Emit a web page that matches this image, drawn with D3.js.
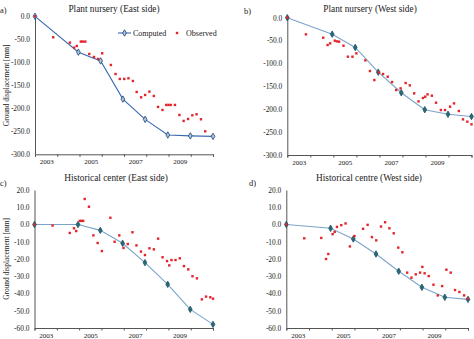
<!DOCTYPE html>
<html><head><meta charset="utf-8">
<script src="https://cdn.jsdelivr.net/npm/d3@7"></script>
<style>body{margin:0;background:#fff}svg{display:block}svg text{font-family:"Liberation Serif","Times New Roman",serif;}</style>
</head><body><svg id="c" width="474" height="339"></svg>
<script>
const titles = ["Plant nursery (East side)", "Plant nursery (West side)", "Historical center (East side)", "Historical centre (West side)"];
const panelLetters = ["a)", "b)", "c)", "d)"];
const yLabel = "Ground displacement [mm]";
const legendLabels = ["Computed", "Observed"];
const xTickLabels = [2003, 2005, 2007, 2009];
const yTicksTop = [0, -50, -100, -150, -200, -250, -300];
const yTicksBottom = [20, 10, 0, -10, -20, -30, -40, -50, -60];

const compYears = [2002.5, 2004.45, 2005.45, 2006.45, 2007.45, 2008.47, 2009.48, 2010.5];
const compA = [0, -78, -97, -180, -224, -258, -260, -261];
const compB = [0, -36, -65, -119, -164, -201, -211, -216];
const compC = [0, 0, -3.4, -10.9, -22.1, -34.7, -49.2, -57.9];
const compD = [0, -2.2, -8.4, -17.1, -27.1, -36.4, -42.2, -43.4];

const obsYearsA = [2002.5, 2003.32, 2004.07, 2004.26, 2004.38, 2004.56, 2004.65, 2004.76, 2004.94, 2005.15, 2005.34, 2005.52, 2005.91, 2006.12, 2006.31, 2006.51, 2006.7, 2006.9, 2007.07, 2007.27, 2007.45, 2007.64, 2007.84, 2008.03, 2008.23, 2008.4, 2008.5, 2008.6, 2008.79, 2008.99, 2009.18, 2009.38, 2009.57, 2009.76, 2009.96, 2010.15];
const obsA = [0, -45.6, -57.2, -68.1, -64.5, -55, -55, -55, -81.9, -88.4, -92.7, -80.4, -105.8, -125.4, -136.2, -136.2, -134.8, -140.6, -164.5, -176.1, -171, -163.8, -173.2, -197, -203.6, -192.7, -192.7, -192.7, -192.7, -214.5, -227.5, -223.2, -215.2, -213, -223.9, -250];

const obsYearsB = [2002.5, 2003.31, 2004.06, 2004.25, 2004.36, 2004.56, 2004.65, 2004.75, 2004.94, 2005.13, 2005.33, 2005.5, 2005.89, 2006.09, 2006.28, 2006.47, 2006.66, 2006.86, 2007.05, 2007.23, 2007.42, 2007.64, 2007.82, 2008.01, 2008.2, 2008.39, 2008.49, 2008.59, 2008.78, 2008.96, 2009.17, 2009.35, 2009.57, 2009.74, 2009.95, 2010.13, 2010.32, 2010.5];
const obsB = [0, -36.4, -43.7, -59.7, -56.1, -50.2, -51.7, -52.4, -61.2, -85.2, -85.2, -77.9, -93.2, -116.5, -136.2, -119.4, -123, -128.9, -140.5, -158, -154.4, -142.7, -147.8, -165.3, -182.8, -175.5, -172.6, -167.5, -170.4, -185.7, -201.7, -201.7, -194.4, -187.2, -203.9, -222.1, -227.2, -233];

const obsYearsC = [2002.5, 2003.31, 2004.08, 2004.27, 2004.37, 2004.53, 2004.61, 2004.68, 2004.75, 2004.94, 2005.14, 2005.33, 2005.52, 2005.9, 2006.09, 2006.3, 2006.49, 2006.68, 2006.89, 2007.07, 2007.27, 2007.45, 2007.65, 2007.85, 2008.04, 2008.24, 2008.44, 2008.54, 2008.64, 2008.82, 2009.01, 2009.2, 2009.39, 2009.58, 2009.78, 2010, 2010.19, 2010.38, 2010.5];
const obsC = [0, -0.6, -4.9, -2.2, -3.8, 2.1, 2.1, 2.1, 14.8, 10.3, -6.3, -10.7, -15.4, 3.9, -10, -6.3, -13.6, -11.3, -4.5, -12.1, -15.7, -17.7, -13.8, -14.4, -8.2, -19, -21.2, -23.7, -20.6, -20.6, -19.6, -24.1, -26, -30, -31.2, -43.4, -41.8, -42.2, -43];

const obsYearsD = [2002.5, 2003.29, 2004.04, 2004.25, 2004.35, 2004.54, 2004.63, 2004.73, 2004.92, 2005.11, 2005.3, 2005.5, 2005.88, 2006.08, 2006.27, 2006.46, 2006.67, 2006.85, 2007.04, 2007.23, 2007.43, 2007.61, 2007.82, 2008.01, 2008.2, 2008.39, 2008.49, 2008.59, 2008.77, 2008.98, 2009.17, 2009.36, 2009.55, 2009.74, 2009.93, 2010.12, 2010.33, 2010.5];
const obsD = [0, -8, -7.8, -20, -17.1, -5.6, -4.3, -1.4, -0.4, 0.6, -12.7, -6.7, -2.5, -0.2, -7.3, -9.2, -1.2, 1.3, -2.2, -5.1, -13.4, -16.1, -27.9, -30.8, -28.9, -27.9, -24.6, -28.3, -29.9, -34.9, -41.1, -35.7, -26.2, -27.9, -38, -39.1, -41.1, -43];

const panels = [
  {comp: compA, oy: obsYearsA, obs: obsA, yt: yTicksTop, L: 35, R: 213, T: 16.3, B: 154.3, titleX: 114, titleY: 11.5, letX: 0, letY: 13, yLab: true, legend: true, lineCol: "#3a6bb0", mFill: "#a9c6e2", mStroke: "#1f3f70"},
  {comp: compB, oy: obsYearsB, obs: obsB, yt: yTicksTop, L: 287.3, R: 471.5, T: 17.7, B: 155, titleX: 370, titleY: 12, letX: 244, letY: 14, yLab: false, legend: false, lineCol: "#7ba4cc", mFill: "#2a6a78", mStroke: "#1d5260"},
  {comp: compC, oy: obsYearsC, obs: obsC, yt: yTicksBottom, L: 34.5, R: 213, T: 190, B: 328, titleX: 116, titleY: 180.5, letX: 0, letY: 186, yLab: true, legend: false, lineCol: "#7ba4cc", mFill: "#2a6a78", mStroke: "#1d5260"},
  {comp: compD, oy: obsYearsD, obs: obsD, yt: yTicksBottom, L: 286.3, R: 468, T: 190, B: 328, titleX: 369, titleY: 180.5, letX: 249, letY: 186, yLab: false, legend: false, lineCol: "#7ba4cc", mFill: "#2a6a78", mStroke: "#1d5260"}
];

const svg = d3.select("#c");
const diamond = d3.symbol().type(d3.symbolDiamond).size(12);
const txt = "#222";

panels.forEach((p, i) => {
  const g = svg.append("g");
  const x = d3.scaleLinear().domain([2002.5, 2010.5]).range([p.L, p.R]);
  const y = d3.scaleLinear().domain([d3.min(p.yt), d3.max(p.yt)]).range([p.B, p.T]);

  g.append("text").attr("x", p.titleX).attr("y", p.titleY).attr("text-anchor", "middle")
    .attr("font-size", 9.3).attr("fill", txt).text(titles[i]);
  g.append("text").attr("x", p.letX).attr("y", p.letY)
    .attr("font-size", 8.5).attr("fill", txt).text(panelLetters[i]);

  const ya = g.append("g").attr("transform", `translate(${p.L},0)`)
    .call(d3.axisLeft(y).tickValues(p.yt).tickSize(0).tickPadding(5).tickFormat(d => d.toFixed(1)));
  ya.attr("font-family", null);
  ya.select(".domain").attr("stroke", "#555");
  ya.selectAll("text").attr("font-size", 7.4).attr("fill", txt);

  const xa = g.append("g").attr("transform", `translate(0,${p.B})`)
    .call(d3.axisBottom(x).tickValues(d3.range(2002.5, 2010.6, 1)).tickSize(2.5).tickFormat(""));
  xa.attr("font-family", null);
  xa.select(".domain").attr("stroke", "#555");
  xa.selectAll("line").attr("stroke", "#555");
  const xl = g.append("g").attr("transform", `translate(0,${p.B})`)
    .call(d3.axisBottom(x).tickValues(xTickLabels).tickSize(0).tickPadding(5).tickFormat(d3.format("d")));
  xl.attr("font-family", null);
  xl.select(".domain").remove();
  xl.selectAll("text").attr("font-size", 7).attr("fill", txt);

  if (p.yLab) {
    g.append("text").attr("transform", `translate(9,${(p.T + p.B) / 2}) rotate(-90)`)
      .attr("text-anchor", "middle").attr("font-size", 7.4)
      .attr("fill", txt).text(yLabel);
  }

  const pts = compYears.map((yr, k) => [yr, p.comp[k]]);
  g.append("path").datum(pts).attr("fill", "none").attr("stroke", p.lineCol).attr("stroke-width", 1.1)
    .attr("d", d3.line().x(d => x(d[0])).y(d => y(d[1])));
  g.selectAll(".dm").data(pts).enter().append("path")
    .attr("transform", d => `translate(${x(d[0])},${y(d[1])})`)
    .attr("d", diamond).attr("fill", p.mFill).attr("stroke", p.mStroke).attr("stroke-width", 0.8);

  const ob = p.oy.map((yr, k) => [yr, p.obs[k]]);
  g.selectAll(".ob").data(ob).enter().append("rect")
    .attr("x", d => x(d[0]) - 1.2).attr("y", d => y(d[1]) - 1.2)
    .attr("width", 2.4).attr("height", 2.4).attr("fill", "#e3242b");

  if (p.legend) {
    const ly = 33;
    g.append("line").attr("x1", 118).attr("x2", 131).attr("y1", ly).attr("y2", ly)
      .attr("stroke", p.lineCol).attr("stroke-width", 1.1);
    g.append("path").attr("transform", `translate(124.5,${ly})`).attr("d", diamond)
      .attr("fill", p.mFill).attr("stroke", p.mStroke).attr("stroke-width", 0.8);
    g.append("text").attr("x", 133).attr("y", ly + 2.7).attr("font-size", 8)
      .attr("fill", txt).text(legendLabels[0]);
    g.append("rect").attr("x", 177 - 1.2).attr("y", ly - 1.2).attr("width", 2.4).attr("height", 2.4).attr("fill", "#e3242b");
    g.append("text").attr("x", 186).attr("y", ly + 2.7).attr("font-size", 8)
      .attr("fill", txt).text(legendLabels[1]);
  }
});
</script>
</body></html>
